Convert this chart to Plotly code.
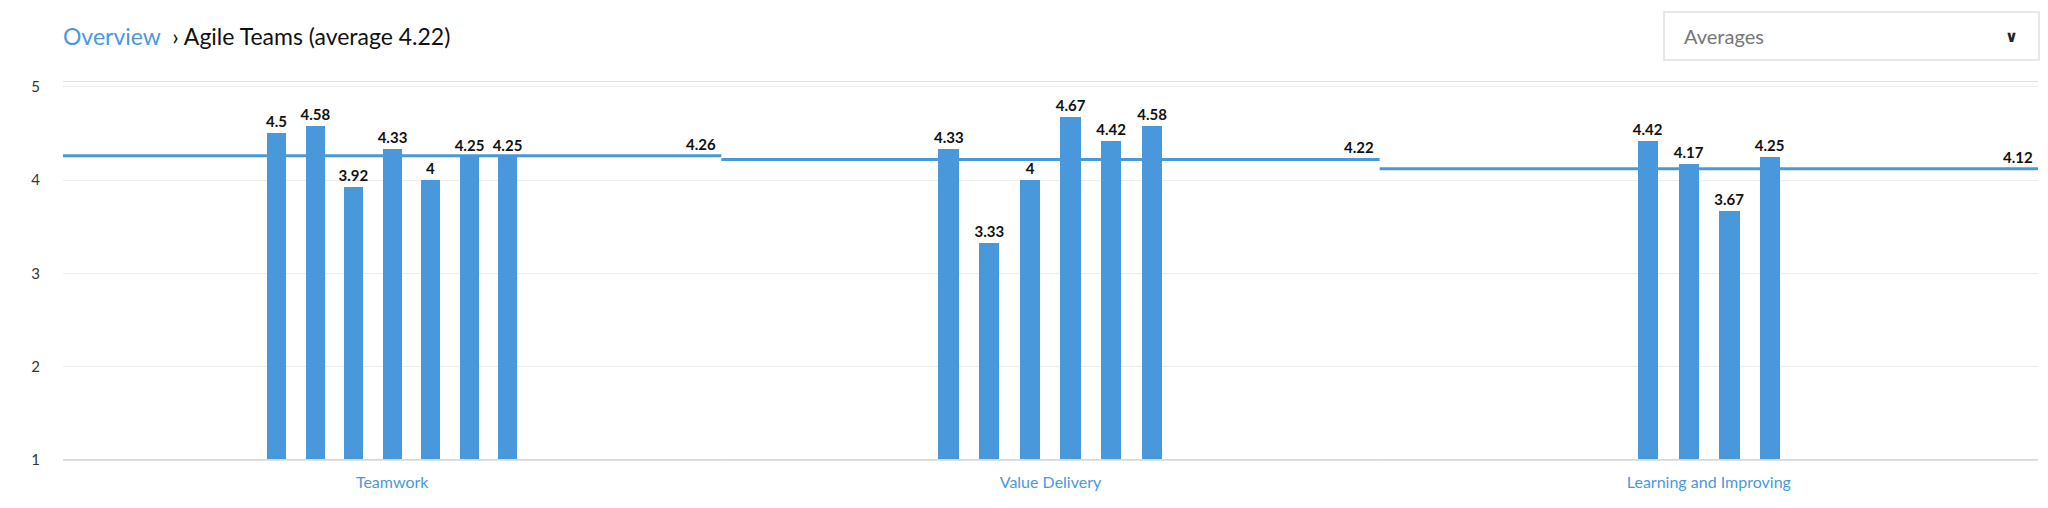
import plotly.graph_objects as go

categories = ["Teamwork", "Value Delivery", "Learning and Improving"]
values = [
    [4.5, 4.58, 3.92, 4.33, 4, 4.25, 4.25],
    [4.33, 3.33, 4, 4.67, 4.42, 4.58],
    [4.42, 4.17, 3.67, 4.25],
]
averages = [4.26, 4.22, 4.12]
y_ticks = [1, 2, 3, 4, 5]

W, H = 2048, 508
L, R, T, B = 55, 2030, 74, 452
BLUE = "#4a98dc"
spans = [17.1, 16.2, 16.2]

fig = go.Figure()
pw = (R - L) / 3
for i, (cat, vals) in enumerate(zip(categories, values)):
    xa = "x" if i == 0 else f"x{i+1}"
    xs = list(range(len(vals)))
    fig.add_trace(go.Bar(
        x=xs, y=vals, xaxis=xa, yaxis="y", width=0.5,
        marker=dict(color=BLUE, line=dict(width=0)),
        text=[f"{v:g}" for v in vals], textposition="outside", constraintext="none",
        textfont=dict(family="Lato", size=15, color="#111", weight="bold"),
        cliponaxis=False, showlegend=False, hoverinfo="skip"))
    c = (len(vals) - 1) / 2
    d0 = (pw * i) / (R - L)
    d1 = (pw * (i + 1)) / (R - L)
    key = "xaxis" if i == 0 else f"xaxis{i+1}"
    fig.layout[key] = dict(
        domain=[d0, d1], range=[c - spans[i] / 2, c + spans[i] / 2],
        tickvals=[c], ticktext=[cat], tickfont=dict(family="Lato", size=16, color=BLUE),
        showgrid=False, zeroline=False, showline=True, linecolor="#e2e2e2",
        mirror=True, ticks="", anchor="y", ticklabelstandoff=8)
    ref = "x domain" if i == 0 else f"x{i+1} domain"
    fig.add_shape(type="line", xref=ref, yref="y", x0=0, x1=1, y0=averages[i], y1=averages[i],
                  line=dict(color=BLUE, width=3), layer="above")
    fig.add_annotation(xref=ref, yref="y", x=0.995, y=averages[i], text=f"<b>{averages[i]:g}</b>",
                       showarrow=False, xanchor="right", yanchor="bottom", yshift=1,
                       font=dict(family="Lato", size=15, color="#111"))
    fig.add_shape(type="line", xref=ref, yref="y", x0=0, x1=1, y0=1, y1=1,
                  line=dict(color="#c5dcf3", width=2))

fig.update_layout(
    width=W, height=H, plot_bgcolor="white", paper_bgcolor="white",
    margin=dict(l=L, r=W - R, t=T, b=H - B), bargap=0,
    yaxis=dict(range=[1, 5.05], tickvals=y_ticks, showgrid=True, gridcolor="#eeeeee",
               zeroline=False, tickfont=dict(family="Lato", size=15, color="#333"),
               ticks="", ticklabelstandoff=22),
    font=dict(family="Lato"),
)
fig.add_annotation(xref="paper", yref="paper", x=-0.001, y=(B - 28) / (B - T), showarrow=False,
                   xanchor="left", yanchor="middle",
                   text="<span style='color:#4a98dc'>Overview</span>  › Agile Teams (average 4.22)",
                   font=dict(family="Lato", size=23, color="#111"))
fig.add_shape(type="rect", xref="paper", yref="paper",
              x0=(1656 - L) / (R - L), x1=(2031 - L) / (R - L),
              y0=(B - 52) / (B - T), y1=(B - 4) / (B - T),
              line=dict(color="#e0e0e0", width=1.5), fillcolor="white")
fig.add_annotation(xref="paper", yref="paper", x=(1674 - L) / (R - L), y=(B - 28) / (B - T),
                   text="Averages", showarrow=False, xanchor="left", yanchor="middle",
                   font=dict(family="Lato", size=20, color="#777"))
fig.add_annotation(xref="paper", yref="paper", x=(2012 - L) / (R - L), y=(B - 28) / (B - T),
                   text="<b>∨</b>", showarrow=False, xanchor="right", yanchor="middle",
                   font=dict(family="DejaVu Sans", size=16, color="#222"))
fig.write_html("out.html")
